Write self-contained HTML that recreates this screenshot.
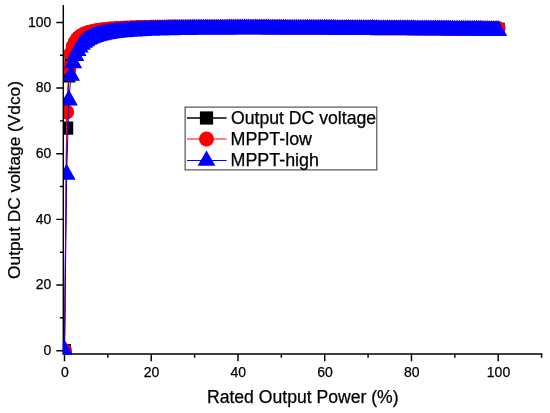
<!DOCTYPE html>
<html><head><meta charset="utf-8"><title>Chart</title>
<style>html,body{margin:0;padding:0;background:#fff}svg{display:block}text{font-family:"Liberation Sans",sans-serif;fill:#000;stroke:#000;stroke-width:.25px}</style></head>
<body>
<svg width="550" height="413" viewBox="0 0 550 413">
<rect width="550" height="413" fill="#fff"/>
<clipPath id="c"><rect x="63.3" y="0" width="486.7" height="353.95"/></clipPath>
<g clip-path="url(#c)">
<polyline fill="none" stroke="#000" stroke-width="1" points="64.50,350.65 66.67,128.12 68.84,75.96 71.01,58.58 73.17,49.91 75.34,44.72 77.51,41.26 79.68,38.80 81.85,36.96 84.02,35.54 86.19,34.40 88.35,33.48 90.52,32.71 92.69,32.07 94.86,31.52 97.03,31.05 99.20,30.64 101.36,30.28 103.53,29.97 105.70,29.69 107.87,29.44 110.04,29.21 112.21,29.01 114.38,28.83 116.54,28.67 118.71,28.52 120.88,28.38 123.05,28.26 125.22,28.15 127.39,28.05 129.56,27.95 131.72,27.86 133.89,27.78 136.06,27.71 138.23,27.64 140.40,27.58 142.57,27.52 144.73,27.47 146.90,27.42 149.07,27.38 151.24,27.33 153.41,27.30 155.58,27.26 157.75,27.23 159.91,27.20 162.08,27.17 164.25,27.14 166.42,27.12 168.59,27.10 170.76,27.08 172.93,27.06 175.09,27.05 177.26,27.03 179.43,27.02 181.60,27.01 183.77,27.00 185.94,26.99 188.10,26.98 190.27,26.98 192.44,26.97 194.61,26.97 196.78,26.97 198.95,26.96 201.12,26.96 203.28,26.96 205.45,26.96 207.62,26.96 209.79,26.96 211.96,26.97 214.13,26.97 216.29,26.97 218.46,26.98 220.63,26.98 222.80,26.99 224.97,26.99 227.14,27.00 229.31,27.01 231.47,27.01 233.64,27.02 235.81,27.03 237.98,27.04 240.15,27.05 242.32,27.06 244.49,27.07 246.65,27.08 248.82,27.09 250.99,27.10 253.16,27.11 255.33,27.12 257.50,27.14 259.66,27.15 261.83,27.16 264.00,27.17 266.17,27.19 268.34,27.20 270.51,27.21 272.68,27.23 274.84,27.24 277.01,27.26 279.18,27.27 281.35,27.28 283.52,27.30 285.69,27.31 287.86,27.33 290.02,27.35 292.19,27.36 294.36,27.38 296.53,27.39 298.70,27.41 300.87,27.43 303.03,27.44 305.20,27.46 307.37,27.48 309.54,27.49 311.71,27.51 313.88,27.53 316.05,27.54 318.21,27.56 320.38,27.58 322.55,27.60 324.72,27.62 326.89,27.63 329.06,27.65 331.23,27.67 333.39,27.69 335.56,27.71 337.73,27.73 339.90,27.74 342.07,27.76 344.24,27.78 346.40,27.80 348.57,27.82 350.74,27.84 352.91,27.86 355.08,27.88 357.25,27.90 359.42,27.92 361.58,27.94 363.75,27.96 365.92,27.98 368.09,28.00 370.26,28.02 372.43,28.04 374.60,28.06 376.76,28.08 378.93,28.10 381.10,28.12 383.27,28.14 385.44,28.16 387.61,28.18 389.77,28.20 391.94,28.22 394.11,28.24 396.28,28.26 398.45,28.28 400.62,28.30 402.79,28.33 404.95,28.35 407.12,28.37 409.29,28.39 411.46,28.41 413.63,28.43 415.80,28.45 417.97,28.47 420.13,28.49 422.30,28.52 424.47,28.54 426.64,28.56 428.81,28.58 430.98,28.60 433.14,28.62 435.31,28.65 437.48,28.67 439.65,28.69 441.82,28.71 443.99,28.73 446.16,28.75 448.32,28.78 450.49,28.80 452.66,28.82 454.83,28.84 457.00,28.86 459.17,28.89 461.34,28.91 463.50,28.93 465.67,28.95 467.84,28.98 470.01,29.00 472.18,29.02 474.35,29.04 476.51,29.06 478.68,29.09 480.85,29.11 483.02,29.13 485.19,29.15 487.36,29.18 489.53,29.20 491.69,29.22 493.86,29.24 496.03,29.27 498.20,29.29"/>
<path fill="#000" d="M57.95 344.10h13.1v13.1h-13.1zM60.12 121.57h13.1v13.1h-13.1zM62.29 69.41h13.1v13.1h-13.1zM64.46 52.03h13.1v13.1h-13.1zM66.62 43.36h13.1v13.1h-13.1zM68.79 38.17h13.1v13.1h-13.1zM70.96 34.71h13.1v13.1h-13.1zM73.13 32.25h13.1v13.1h-13.1zM75.30 30.41h13.1v13.1h-13.1zM77.47 28.99h13.1v13.1h-13.1zM79.64 27.85h13.1v13.1h-13.1zM81.80 26.93h13.1v13.1h-13.1zM83.97 26.16h13.1v13.1h-13.1zM86.14 25.52h13.1v13.1h-13.1zM88.31 24.97h13.1v13.1h-13.1zM90.48 24.50h13.1v13.1h-13.1zM92.65 24.09h13.1v13.1h-13.1zM94.81 23.73h13.1v13.1h-13.1zM96.98 23.42h13.1v13.1h-13.1zM99.15 23.14h13.1v13.1h-13.1zM101.32 22.89h13.1v13.1h-13.1zM103.49 22.66h13.1v13.1h-13.1zM105.66 22.46h13.1v13.1h-13.1zM107.83 22.28h13.1v13.1h-13.1zM109.99 22.12h13.1v13.1h-13.1zM112.16 21.97h13.1v13.1h-13.1zM114.33 21.83h13.1v13.1h-13.1zM116.50 21.71h13.1v13.1h-13.1zM118.67 21.60h13.1v13.1h-13.1zM120.84 21.50h13.1v13.1h-13.1zM123.01 21.40h13.1v13.1h-13.1zM125.17 21.31h13.1v13.1h-13.1zM127.34 21.23h13.1v13.1h-13.1zM129.51 21.16h13.1v13.1h-13.1zM131.68 21.09h13.1v13.1h-13.1zM133.85 21.03h13.1v13.1h-13.1zM136.02 20.97h13.1v13.1h-13.1zM138.18 20.92h13.1v13.1h-13.1zM140.35 20.87h13.1v13.1h-13.1zM142.52 20.83h13.1v13.1h-13.1zM144.69 20.78h13.1v13.1h-13.1zM146.86 20.75h13.1v13.1h-13.1zM149.03 20.71h13.1v13.1h-13.1zM151.20 20.68h13.1v13.1h-13.1zM153.36 20.65h13.1v13.1h-13.1zM155.53 20.62h13.1v13.1h-13.1zM157.70 20.59h13.1v13.1h-13.1zM159.87 20.57h13.1v13.1h-13.1zM162.04 20.55h13.1v13.1h-13.1zM164.21 20.53h13.1v13.1h-13.1zM166.38 20.51h13.1v13.1h-13.1zM168.54 20.50h13.1v13.1h-13.1zM170.71 20.48h13.1v13.1h-13.1zM172.88 20.47h13.1v13.1h-13.1zM175.05 20.46h13.1v13.1h-13.1zM177.22 20.45h13.1v13.1h-13.1zM179.39 20.44h13.1v13.1h-13.1zM181.55 20.43h13.1v13.1h-13.1zM183.72 20.43h13.1v13.1h-13.1zM185.89 20.42h13.1v13.1h-13.1zM188.06 20.42h13.1v13.1h-13.1zM190.23 20.42h13.1v13.1h-13.1zM192.40 20.41h13.1v13.1h-13.1zM194.57 20.41h13.1v13.1h-13.1zM196.73 20.41h13.1v13.1h-13.1zM198.90 20.41h13.1v13.1h-13.1zM201.07 20.41h13.1v13.1h-13.1zM203.24 20.41h13.1v13.1h-13.1zM205.41 20.42h13.1v13.1h-13.1zM207.58 20.42h13.1v13.1h-13.1zM209.74 20.42h13.1v13.1h-13.1zM211.91 20.43h13.1v13.1h-13.1zM214.08 20.43h13.1v13.1h-13.1zM216.25 20.44h13.1v13.1h-13.1zM218.42 20.44h13.1v13.1h-13.1zM220.59 20.45h13.1v13.1h-13.1zM222.76 20.46h13.1v13.1h-13.1zM224.92 20.46h13.1v13.1h-13.1zM227.09 20.47h13.1v13.1h-13.1zM229.26 20.48h13.1v13.1h-13.1zM231.43 20.49h13.1v13.1h-13.1zM233.60 20.50h13.1v13.1h-13.1zM235.77 20.51h13.1v13.1h-13.1zM237.94 20.52h13.1v13.1h-13.1zM240.10 20.53h13.1v13.1h-13.1zM242.27 20.54h13.1v13.1h-13.1zM244.44 20.55h13.1v13.1h-13.1zM246.61 20.56h13.1v13.1h-13.1zM248.78 20.57h13.1v13.1h-13.1zM250.95 20.59h13.1v13.1h-13.1zM253.11 20.60h13.1v13.1h-13.1zM255.28 20.61h13.1v13.1h-13.1zM257.45 20.62h13.1v13.1h-13.1zM259.62 20.64h13.1v13.1h-13.1zM261.79 20.65h13.1v13.1h-13.1zM263.96 20.66h13.1v13.1h-13.1zM266.13 20.68h13.1v13.1h-13.1zM268.29 20.69h13.1v13.1h-13.1zM270.46 20.71h13.1v13.1h-13.1zM272.63 20.72h13.1v13.1h-13.1zM274.80 20.73h13.1v13.1h-13.1zM276.97 20.75h13.1v13.1h-13.1zM279.14 20.76h13.1v13.1h-13.1zM281.31 20.78h13.1v13.1h-13.1zM283.47 20.80h13.1v13.1h-13.1zM285.64 20.81h13.1v13.1h-13.1zM287.81 20.83h13.1v13.1h-13.1zM289.98 20.84h13.1v13.1h-13.1zM292.15 20.86h13.1v13.1h-13.1zM294.32 20.88h13.1v13.1h-13.1zM296.48 20.89h13.1v13.1h-13.1zM298.65 20.91h13.1v13.1h-13.1zM300.82 20.93h13.1v13.1h-13.1zM302.99 20.94h13.1v13.1h-13.1zM305.16 20.96h13.1v13.1h-13.1zM307.33 20.98h13.1v13.1h-13.1zM309.50 20.99h13.1v13.1h-13.1zM311.66 21.01h13.1v13.1h-13.1zM313.83 21.03h13.1v13.1h-13.1zM316.00 21.05h13.1v13.1h-13.1zM318.17 21.07h13.1v13.1h-13.1zM320.34 21.08h13.1v13.1h-13.1zM322.51 21.10h13.1v13.1h-13.1zM324.68 21.12h13.1v13.1h-13.1zM326.84 21.14h13.1v13.1h-13.1zM329.01 21.16h13.1v13.1h-13.1zM331.18 21.18h13.1v13.1h-13.1zM333.35 21.19h13.1v13.1h-13.1zM335.52 21.21h13.1v13.1h-13.1zM337.69 21.23h13.1v13.1h-13.1zM339.85 21.25h13.1v13.1h-13.1zM342.02 21.27h13.1v13.1h-13.1zM344.19 21.29h13.1v13.1h-13.1zM346.36 21.31h13.1v13.1h-13.1zM348.53 21.33h13.1v13.1h-13.1zM350.70 21.35h13.1v13.1h-13.1zM352.87 21.37h13.1v13.1h-13.1zM355.03 21.39h13.1v13.1h-13.1zM357.20 21.41h13.1v13.1h-13.1zM359.37 21.43h13.1v13.1h-13.1zM361.54 21.45h13.1v13.1h-13.1zM363.71 21.47h13.1v13.1h-13.1zM365.88 21.49h13.1v13.1h-13.1zM368.05 21.51h13.1v13.1h-13.1zM370.21 21.53h13.1v13.1h-13.1zM372.38 21.55h13.1v13.1h-13.1zM374.55 21.57h13.1v13.1h-13.1zM376.72 21.59h13.1v13.1h-13.1zM378.89 21.61h13.1v13.1h-13.1zM381.06 21.63h13.1v13.1h-13.1zM383.22 21.65h13.1v13.1h-13.1zM385.39 21.67h13.1v13.1h-13.1zM387.56 21.69h13.1v13.1h-13.1zM389.73 21.71h13.1v13.1h-13.1zM391.90 21.73h13.1v13.1h-13.1zM394.07 21.75h13.1v13.1h-13.1zM396.24 21.78h13.1v13.1h-13.1zM398.40 21.80h13.1v13.1h-13.1zM400.57 21.82h13.1v13.1h-13.1zM402.74 21.84h13.1v13.1h-13.1zM404.91 21.86h13.1v13.1h-13.1zM407.08 21.88h13.1v13.1h-13.1zM409.25 21.90h13.1v13.1h-13.1zM411.42 21.92h13.1v13.1h-13.1zM413.58 21.94h13.1v13.1h-13.1zM415.75 21.97h13.1v13.1h-13.1zM417.92 21.99h13.1v13.1h-13.1zM420.09 22.01h13.1v13.1h-13.1zM422.26 22.03h13.1v13.1h-13.1zM424.43 22.05h13.1v13.1h-13.1zM426.59 22.07h13.1v13.1h-13.1zM428.76 22.10h13.1v13.1h-13.1zM430.93 22.12h13.1v13.1h-13.1zM433.10 22.14h13.1v13.1h-13.1zM435.27 22.16h13.1v13.1h-13.1zM437.44 22.18h13.1v13.1h-13.1zM439.61 22.20h13.1v13.1h-13.1zM441.77 22.23h13.1v13.1h-13.1zM443.94 22.25h13.1v13.1h-13.1zM446.11 22.27h13.1v13.1h-13.1zM448.28 22.29h13.1v13.1h-13.1zM450.45 22.31h13.1v13.1h-13.1zM452.62 22.34h13.1v13.1h-13.1zM454.79 22.36h13.1v13.1h-13.1zM456.95 22.38h13.1v13.1h-13.1zM459.12 22.40h13.1v13.1h-13.1zM461.29 22.43h13.1v13.1h-13.1zM463.46 22.45h13.1v13.1h-13.1zM465.63 22.47h13.1v13.1h-13.1zM467.80 22.49h13.1v13.1h-13.1zM469.96 22.51h13.1v13.1h-13.1zM472.13 22.54h13.1v13.1h-13.1zM474.30 22.56h13.1v13.1h-13.1zM476.47 22.58h13.1v13.1h-13.1zM478.64 22.60h13.1v13.1h-13.1zM480.81 22.63h13.1v13.1h-13.1zM482.98 22.65h13.1v13.1h-13.1zM485.14 22.67h13.1v13.1h-13.1zM487.31 22.69h13.1v13.1h-13.1zM489.48 22.72h13.1v13.1h-13.1zM491.65 22.74h13.1v13.1h-13.1z"/>
<polyline fill="none" stroke="#f00" stroke-width="1" points="64.50,350.65 66.67,111.93 68.84,68.21 71.01,53.65 73.17,46.38 75.34,42.02 77.51,39.12 79.68,37.06 81.85,35.51 84.02,34.32 86.19,33.36 88.35,32.59 90.52,31.94 92.69,31.40 94.86,30.94 97.03,30.54 99.20,30.19 101.36,29.89 103.53,29.62 105.70,29.38 107.87,29.17 110.04,28.98 112.21,28.81 114.38,28.65 116.54,28.51 118.71,28.39 120.88,28.27 123.05,28.16 125.22,28.06 127.39,27.98 129.56,27.89 131.72,27.82 133.89,27.75 136.06,27.68 138.23,27.62 140.40,27.57 142.57,27.52 144.73,27.47 146.90,27.42 149.07,27.38 151.24,27.34 153.41,27.31 155.58,27.28 157.75,27.25 159.91,27.22 162.08,27.19 164.25,27.17 166.42,27.14 168.59,27.12 170.76,27.11 172.93,27.09 175.09,27.07 177.26,27.06 179.43,27.04 181.60,27.03 183.77,27.02 185.94,27.01 188.10,27.00 190.27,26.99 192.44,26.98 194.61,26.98 196.78,26.97 198.95,26.97 201.12,26.96 203.28,26.96 205.45,26.95 207.62,26.95 209.79,26.95 211.96,26.95 214.13,26.95 216.29,26.95 218.46,26.95 220.63,26.95 222.80,26.95 224.97,26.95 227.14,26.96 229.31,26.96 231.47,26.96 233.64,26.96 235.81,26.97 237.98,26.97 240.15,26.98 242.32,26.98 244.49,26.99 246.65,26.99 248.82,27.00 250.99,27.00 253.16,27.01 255.33,27.02 257.50,27.02 259.66,27.03 261.83,27.04 264.00,27.05 266.17,27.05 268.34,27.06 270.51,27.07 272.68,27.08 274.84,27.09 277.01,27.10 279.18,27.11 281.35,27.12 283.52,27.12 285.69,27.13 287.86,27.14 290.02,27.15 292.19,27.16 294.36,27.17 296.53,27.18 298.70,27.19 300.87,27.21 303.03,27.22 305.20,27.23 307.37,27.24 309.54,27.25 311.71,27.26 313.88,27.27 316.05,27.28 318.21,27.30 320.38,27.31 322.55,27.32 324.72,27.33 326.89,27.34 329.06,27.35 331.23,27.37 333.39,27.38 335.56,27.39 337.73,27.40 339.90,27.42 342.07,27.43 344.24,27.44 346.40,27.46 348.57,27.47 350.74,27.48 352.91,27.49 355.08,27.51 357.25,27.52 359.42,27.53 361.58,27.55 363.75,27.56 365.92,27.57 368.09,27.59 370.26,27.60 372.43,27.61 374.60,27.63 376.76,27.64 378.93,27.66 381.10,27.67 383.27,27.68 385.44,27.70 387.61,27.71 389.77,27.73 391.94,27.74 394.11,27.75 396.28,27.77 398.45,27.78 400.62,27.80 402.79,27.81 404.95,27.83 407.12,27.84 409.29,27.86 411.46,27.87 413.63,27.89 415.80,27.90 417.97,27.91 420.13,27.93 422.30,27.94 424.47,27.96 426.64,27.97 428.81,27.99 430.98,28.00 433.14,28.02 435.31,28.03 437.48,28.05 439.65,28.06 441.82,28.08 443.99,28.09 446.16,28.11 448.32,28.12 450.49,28.14 452.66,28.16 454.83,28.17 457.00,28.19 459.17,28.20 461.34,28.22 463.50,28.23 465.67,28.25 467.84,28.26 470.01,28.28 472.18,28.29 474.35,28.31 476.51,28.33 478.68,28.34 480.85,28.36 483.02,28.37 485.19,28.39 487.36,28.40 489.53,28.42 491.69,28.44 493.86,28.45 496.03,28.47 498.20,28.48"/>
<path fill="#f00" d="M57.00 350.65a7.5 7.5 0 1 0 15.0 0a7.5 7.5 0 1 0 -15.0 0zM59.17 111.93a7.5 7.5 0 1 0 15.0 0a7.5 7.5 0 1 0 -15.0 0zM61.34 68.21a7.5 7.5 0 1 0 15.0 0a7.5 7.5 0 1 0 -15.0 0zM63.51 53.65a7.5 7.5 0 1 0 15.0 0a7.5 7.5 0 1 0 -15.0 0zM65.67 46.38a7.5 7.5 0 1 0 15.0 0a7.5 7.5 0 1 0 -15.0 0zM67.84 42.02a7.5 7.5 0 1 0 15.0 0a7.5 7.5 0 1 0 -15.0 0zM70.01 39.12a7.5 7.5 0 1 0 15.0 0a7.5 7.5 0 1 0 -15.0 0zM72.18 37.06a7.5 7.5 0 1 0 15.0 0a7.5 7.5 0 1 0 -15.0 0zM74.35 35.51a7.5 7.5 0 1 0 15.0 0a7.5 7.5 0 1 0 -15.0 0zM76.52 34.32a7.5 7.5 0 1 0 15.0 0a7.5 7.5 0 1 0 -15.0 0zM78.69 33.36a7.5 7.5 0 1 0 15.0 0a7.5 7.5 0 1 0 -15.0 0zM80.85 32.59a7.5 7.5 0 1 0 15.0 0a7.5 7.5 0 1 0 -15.0 0zM83.02 31.94a7.5 7.5 0 1 0 15.0 0a7.5 7.5 0 1 0 -15.0 0zM85.19 31.40a7.5 7.5 0 1 0 15.0 0a7.5 7.5 0 1 0 -15.0 0zM87.36 30.94a7.5 7.5 0 1 0 15.0 0a7.5 7.5 0 1 0 -15.0 0zM89.53 30.54a7.5 7.5 0 1 0 15.0 0a7.5 7.5 0 1 0 -15.0 0zM91.70 30.19a7.5 7.5 0 1 0 15.0 0a7.5 7.5 0 1 0 -15.0 0zM93.86 29.89a7.5 7.5 0 1 0 15.0 0a7.5 7.5 0 1 0 -15.0 0zM96.03 29.62a7.5 7.5 0 1 0 15.0 0a7.5 7.5 0 1 0 -15.0 0zM98.20 29.38a7.5 7.5 0 1 0 15.0 0a7.5 7.5 0 1 0 -15.0 0zM100.37 29.17a7.5 7.5 0 1 0 15.0 0a7.5 7.5 0 1 0 -15.0 0zM102.54 28.98a7.5 7.5 0 1 0 15.0 0a7.5 7.5 0 1 0 -15.0 0zM104.71 28.81a7.5 7.5 0 1 0 15.0 0a7.5 7.5 0 1 0 -15.0 0zM106.88 28.65a7.5 7.5 0 1 0 15.0 0a7.5 7.5 0 1 0 -15.0 0zM109.04 28.51a7.5 7.5 0 1 0 15.0 0a7.5 7.5 0 1 0 -15.0 0zM111.21 28.39a7.5 7.5 0 1 0 15.0 0a7.5 7.5 0 1 0 -15.0 0zM113.38 28.27a7.5 7.5 0 1 0 15.0 0a7.5 7.5 0 1 0 -15.0 0zM115.55 28.16a7.5 7.5 0 1 0 15.0 0a7.5 7.5 0 1 0 -15.0 0zM117.72 28.06a7.5 7.5 0 1 0 15.0 0a7.5 7.5 0 1 0 -15.0 0zM119.89 27.98a7.5 7.5 0 1 0 15.0 0a7.5 7.5 0 1 0 -15.0 0zM122.06 27.89a7.5 7.5 0 1 0 15.0 0a7.5 7.5 0 1 0 -15.0 0zM124.22 27.82a7.5 7.5 0 1 0 15.0 0a7.5 7.5 0 1 0 -15.0 0zM126.39 27.75a7.5 7.5 0 1 0 15.0 0a7.5 7.5 0 1 0 -15.0 0zM128.56 27.68a7.5 7.5 0 1 0 15.0 0a7.5 7.5 0 1 0 -15.0 0zM130.73 27.62a7.5 7.5 0 1 0 15.0 0a7.5 7.5 0 1 0 -15.0 0zM132.90 27.57a7.5 7.5 0 1 0 15.0 0a7.5 7.5 0 1 0 -15.0 0zM135.07 27.52a7.5 7.5 0 1 0 15.0 0a7.5 7.5 0 1 0 -15.0 0zM137.23 27.47a7.5 7.5 0 1 0 15.0 0a7.5 7.5 0 1 0 -15.0 0zM139.40 27.42a7.5 7.5 0 1 0 15.0 0a7.5 7.5 0 1 0 -15.0 0zM141.57 27.38a7.5 7.5 0 1 0 15.0 0a7.5 7.5 0 1 0 -15.0 0zM143.74 27.34a7.5 7.5 0 1 0 15.0 0a7.5 7.5 0 1 0 -15.0 0zM145.91 27.31a7.5 7.5 0 1 0 15.0 0a7.5 7.5 0 1 0 -15.0 0zM148.08 27.28a7.5 7.5 0 1 0 15.0 0a7.5 7.5 0 1 0 -15.0 0zM150.25 27.25a7.5 7.5 0 1 0 15.0 0a7.5 7.5 0 1 0 -15.0 0zM152.41 27.22a7.5 7.5 0 1 0 15.0 0a7.5 7.5 0 1 0 -15.0 0zM154.58 27.19a7.5 7.5 0 1 0 15.0 0a7.5 7.5 0 1 0 -15.0 0zM156.75 27.17a7.5 7.5 0 1 0 15.0 0a7.5 7.5 0 1 0 -15.0 0zM158.92 27.14a7.5 7.5 0 1 0 15.0 0a7.5 7.5 0 1 0 -15.0 0zM161.09 27.12a7.5 7.5 0 1 0 15.0 0a7.5 7.5 0 1 0 -15.0 0zM163.26 27.11a7.5 7.5 0 1 0 15.0 0a7.5 7.5 0 1 0 -15.0 0zM165.43 27.09a7.5 7.5 0 1 0 15.0 0a7.5 7.5 0 1 0 -15.0 0zM167.59 27.07a7.5 7.5 0 1 0 15.0 0a7.5 7.5 0 1 0 -15.0 0zM169.76 27.06a7.5 7.5 0 1 0 15.0 0a7.5 7.5 0 1 0 -15.0 0zM171.93 27.04a7.5 7.5 0 1 0 15.0 0a7.5 7.5 0 1 0 -15.0 0zM174.10 27.03a7.5 7.5 0 1 0 15.0 0a7.5 7.5 0 1 0 -15.0 0zM176.27 27.02a7.5 7.5 0 1 0 15.0 0a7.5 7.5 0 1 0 -15.0 0zM178.44 27.01a7.5 7.5 0 1 0 15.0 0a7.5 7.5 0 1 0 -15.0 0zM180.60 27.00a7.5 7.5 0 1 0 15.0 0a7.5 7.5 0 1 0 -15.0 0zM182.77 26.99a7.5 7.5 0 1 0 15.0 0a7.5 7.5 0 1 0 -15.0 0zM184.94 26.98a7.5 7.5 0 1 0 15.0 0a7.5 7.5 0 1 0 -15.0 0zM187.11 26.98a7.5 7.5 0 1 0 15.0 0a7.5 7.5 0 1 0 -15.0 0zM189.28 26.97a7.5 7.5 0 1 0 15.0 0a7.5 7.5 0 1 0 -15.0 0zM191.45 26.97a7.5 7.5 0 1 0 15.0 0a7.5 7.5 0 1 0 -15.0 0zM193.62 26.96a7.5 7.5 0 1 0 15.0 0a7.5 7.5 0 1 0 -15.0 0zM195.78 26.96a7.5 7.5 0 1 0 15.0 0a7.5 7.5 0 1 0 -15.0 0zM197.95 26.95a7.5 7.5 0 1 0 15.0 0a7.5 7.5 0 1 0 -15.0 0zM200.12 26.95a7.5 7.5 0 1 0 15.0 0a7.5 7.5 0 1 0 -15.0 0zM202.29 26.95a7.5 7.5 0 1 0 15.0 0a7.5 7.5 0 1 0 -15.0 0zM204.46 26.95a7.5 7.5 0 1 0 15.0 0a7.5 7.5 0 1 0 -15.0 0zM206.63 26.95a7.5 7.5 0 1 0 15.0 0a7.5 7.5 0 1 0 -15.0 0zM208.79 26.95a7.5 7.5 0 1 0 15.0 0a7.5 7.5 0 1 0 -15.0 0zM210.96 26.95a7.5 7.5 0 1 0 15.0 0a7.5 7.5 0 1 0 -15.0 0zM213.13 26.95a7.5 7.5 0 1 0 15.0 0a7.5 7.5 0 1 0 -15.0 0zM215.30 26.95a7.5 7.5 0 1 0 15.0 0a7.5 7.5 0 1 0 -15.0 0zM217.47 26.95a7.5 7.5 0 1 0 15.0 0a7.5 7.5 0 1 0 -15.0 0zM219.64 26.96a7.5 7.5 0 1 0 15.0 0a7.5 7.5 0 1 0 -15.0 0zM221.81 26.96a7.5 7.5 0 1 0 15.0 0a7.5 7.5 0 1 0 -15.0 0zM223.97 26.96a7.5 7.5 0 1 0 15.0 0a7.5 7.5 0 1 0 -15.0 0zM226.14 26.96a7.5 7.5 0 1 0 15.0 0a7.5 7.5 0 1 0 -15.0 0zM228.31 26.97a7.5 7.5 0 1 0 15.0 0a7.5 7.5 0 1 0 -15.0 0zM230.48 26.97a7.5 7.5 0 1 0 15.0 0a7.5 7.5 0 1 0 -15.0 0zM232.65 26.98a7.5 7.5 0 1 0 15.0 0a7.5 7.5 0 1 0 -15.0 0zM234.82 26.98a7.5 7.5 0 1 0 15.0 0a7.5 7.5 0 1 0 -15.0 0zM236.99 26.99a7.5 7.5 0 1 0 15.0 0a7.5 7.5 0 1 0 -15.0 0zM239.15 26.99a7.5 7.5 0 1 0 15.0 0a7.5 7.5 0 1 0 -15.0 0zM241.32 27.00a7.5 7.5 0 1 0 15.0 0a7.5 7.5 0 1 0 -15.0 0zM243.49 27.00a7.5 7.5 0 1 0 15.0 0a7.5 7.5 0 1 0 -15.0 0zM245.66 27.01a7.5 7.5 0 1 0 15.0 0a7.5 7.5 0 1 0 -15.0 0zM247.83 27.02a7.5 7.5 0 1 0 15.0 0a7.5 7.5 0 1 0 -15.0 0zM250.00 27.02a7.5 7.5 0 1 0 15.0 0a7.5 7.5 0 1 0 -15.0 0zM252.16 27.03a7.5 7.5 0 1 0 15.0 0a7.5 7.5 0 1 0 -15.0 0zM254.33 27.04a7.5 7.5 0 1 0 15.0 0a7.5 7.5 0 1 0 -15.0 0zM256.50 27.05a7.5 7.5 0 1 0 15.0 0a7.5 7.5 0 1 0 -15.0 0zM258.67 27.05a7.5 7.5 0 1 0 15.0 0a7.5 7.5 0 1 0 -15.0 0zM260.84 27.06a7.5 7.5 0 1 0 15.0 0a7.5 7.5 0 1 0 -15.0 0zM263.01 27.07a7.5 7.5 0 1 0 15.0 0a7.5 7.5 0 1 0 -15.0 0zM265.18 27.08a7.5 7.5 0 1 0 15.0 0a7.5 7.5 0 1 0 -15.0 0zM267.34 27.09a7.5 7.5 0 1 0 15.0 0a7.5 7.5 0 1 0 -15.0 0zM269.51 27.10a7.5 7.5 0 1 0 15.0 0a7.5 7.5 0 1 0 -15.0 0zM271.68 27.11a7.5 7.5 0 1 0 15.0 0a7.5 7.5 0 1 0 -15.0 0zM273.85 27.12a7.5 7.5 0 1 0 15.0 0a7.5 7.5 0 1 0 -15.0 0zM276.02 27.12a7.5 7.5 0 1 0 15.0 0a7.5 7.5 0 1 0 -15.0 0zM278.19 27.13a7.5 7.5 0 1 0 15.0 0a7.5 7.5 0 1 0 -15.0 0zM280.36 27.14a7.5 7.5 0 1 0 15.0 0a7.5 7.5 0 1 0 -15.0 0zM282.52 27.15a7.5 7.5 0 1 0 15.0 0a7.5 7.5 0 1 0 -15.0 0zM284.69 27.16a7.5 7.5 0 1 0 15.0 0a7.5 7.5 0 1 0 -15.0 0zM286.86 27.17a7.5 7.5 0 1 0 15.0 0a7.5 7.5 0 1 0 -15.0 0zM289.03 27.18a7.5 7.5 0 1 0 15.0 0a7.5 7.5 0 1 0 -15.0 0zM291.20 27.19a7.5 7.5 0 1 0 15.0 0a7.5 7.5 0 1 0 -15.0 0zM293.37 27.21a7.5 7.5 0 1 0 15.0 0a7.5 7.5 0 1 0 -15.0 0zM295.53 27.22a7.5 7.5 0 1 0 15.0 0a7.5 7.5 0 1 0 -15.0 0zM297.70 27.23a7.5 7.5 0 1 0 15.0 0a7.5 7.5 0 1 0 -15.0 0zM299.87 27.24a7.5 7.5 0 1 0 15.0 0a7.5 7.5 0 1 0 -15.0 0zM302.04 27.25a7.5 7.5 0 1 0 15.0 0a7.5 7.5 0 1 0 -15.0 0zM304.21 27.26a7.5 7.5 0 1 0 15.0 0a7.5 7.5 0 1 0 -15.0 0zM306.38 27.27a7.5 7.5 0 1 0 15.0 0a7.5 7.5 0 1 0 -15.0 0zM308.55 27.28a7.5 7.5 0 1 0 15.0 0a7.5 7.5 0 1 0 -15.0 0zM310.71 27.30a7.5 7.5 0 1 0 15.0 0a7.5 7.5 0 1 0 -15.0 0zM312.88 27.31a7.5 7.5 0 1 0 15.0 0a7.5 7.5 0 1 0 -15.0 0zM315.05 27.32a7.5 7.5 0 1 0 15.0 0a7.5 7.5 0 1 0 -15.0 0zM317.22 27.33a7.5 7.5 0 1 0 15.0 0a7.5 7.5 0 1 0 -15.0 0zM319.39 27.34a7.5 7.5 0 1 0 15.0 0a7.5 7.5 0 1 0 -15.0 0zM321.56 27.35a7.5 7.5 0 1 0 15.0 0a7.5 7.5 0 1 0 -15.0 0zM323.73 27.37a7.5 7.5 0 1 0 15.0 0a7.5 7.5 0 1 0 -15.0 0zM325.89 27.38a7.5 7.5 0 1 0 15.0 0a7.5 7.5 0 1 0 -15.0 0zM328.06 27.39a7.5 7.5 0 1 0 15.0 0a7.5 7.5 0 1 0 -15.0 0zM330.23 27.40a7.5 7.5 0 1 0 15.0 0a7.5 7.5 0 1 0 -15.0 0zM332.40 27.42a7.5 7.5 0 1 0 15.0 0a7.5 7.5 0 1 0 -15.0 0zM334.57 27.43a7.5 7.5 0 1 0 15.0 0a7.5 7.5 0 1 0 -15.0 0zM336.74 27.44a7.5 7.5 0 1 0 15.0 0a7.5 7.5 0 1 0 -15.0 0zM338.90 27.46a7.5 7.5 0 1 0 15.0 0a7.5 7.5 0 1 0 -15.0 0zM341.07 27.47a7.5 7.5 0 1 0 15.0 0a7.5 7.5 0 1 0 -15.0 0zM343.24 27.48a7.5 7.5 0 1 0 15.0 0a7.5 7.5 0 1 0 -15.0 0zM345.41 27.49a7.5 7.5 0 1 0 15.0 0a7.5 7.5 0 1 0 -15.0 0zM347.58 27.51a7.5 7.5 0 1 0 15.0 0a7.5 7.5 0 1 0 -15.0 0zM349.75 27.52a7.5 7.5 0 1 0 15.0 0a7.5 7.5 0 1 0 -15.0 0zM351.92 27.53a7.5 7.5 0 1 0 15.0 0a7.5 7.5 0 1 0 -15.0 0zM354.08 27.55a7.5 7.5 0 1 0 15.0 0a7.5 7.5 0 1 0 -15.0 0zM356.25 27.56a7.5 7.5 0 1 0 15.0 0a7.5 7.5 0 1 0 -15.0 0zM358.42 27.57a7.5 7.5 0 1 0 15.0 0a7.5 7.5 0 1 0 -15.0 0zM360.59 27.59a7.5 7.5 0 1 0 15.0 0a7.5 7.5 0 1 0 -15.0 0zM362.76 27.60a7.5 7.5 0 1 0 15.0 0a7.5 7.5 0 1 0 -15.0 0zM364.93 27.61a7.5 7.5 0 1 0 15.0 0a7.5 7.5 0 1 0 -15.0 0zM367.10 27.63a7.5 7.5 0 1 0 15.0 0a7.5 7.5 0 1 0 -15.0 0zM369.26 27.64a7.5 7.5 0 1 0 15.0 0a7.5 7.5 0 1 0 -15.0 0zM371.43 27.66a7.5 7.5 0 1 0 15.0 0a7.5 7.5 0 1 0 -15.0 0zM373.60 27.67a7.5 7.5 0 1 0 15.0 0a7.5 7.5 0 1 0 -15.0 0zM375.77 27.68a7.5 7.5 0 1 0 15.0 0a7.5 7.5 0 1 0 -15.0 0zM377.94 27.70a7.5 7.5 0 1 0 15.0 0a7.5 7.5 0 1 0 -15.0 0zM380.11 27.71a7.5 7.5 0 1 0 15.0 0a7.5 7.5 0 1 0 -15.0 0zM382.27 27.73a7.5 7.5 0 1 0 15.0 0a7.5 7.5 0 1 0 -15.0 0zM384.44 27.74a7.5 7.5 0 1 0 15.0 0a7.5 7.5 0 1 0 -15.0 0zM386.61 27.75a7.5 7.5 0 1 0 15.0 0a7.5 7.5 0 1 0 -15.0 0zM388.78 27.77a7.5 7.5 0 1 0 15.0 0a7.5 7.5 0 1 0 -15.0 0zM390.95 27.78a7.5 7.5 0 1 0 15.0 0a7.5 7.5 0 1 0 -15.0 0zM393.12 27.80a7.5 7.5 0 1 0 15.0 0a7.5 7.5 0 1 0 -15.0 0zM395.29 27.81a7.5 7.5 0 1 0 15.0 0a7.5 7.5 0 1 0 -15.0 0zM397.45 27.83a7.5 7.5 0 1 0 15.0 0a7.5 7.5 0 1 0 -15.0 0zM399.62 27.84a7.5 7.5 0 1 0 15.0 0a7.5 7.5 0 1 0 -15.0 0zM401.79 27.86a7.5 7.5 0 1 0 15.0 0a7.5 7.5 0 1 0 -15.0 0zM403.96 27.87a7.5 7.5 0 1 0 15.0 0a7.5 7.5 0 1 0 -15.0 0zM406.13 27.89a7.5 7.5 0 1 0 15.0 0a7.5 7.5 0 1 0 -15.0 0zM408.30 27.90a7.5 7.5 0 1 0 15.0 0a7.5 7.5 0 1 0 -15.0 0zM410.47 27.91a7.5 7.5 0 1 0 15.0 0a7.5 7.5 0 1 0 -15.0 0zM412.63 27.93a7.5 7.5 0 1 0 15.0 0a7.5 7.5 0 1 0 -15.0 0zM414.80 27.94a7.5 7.5 0 1 0 15.0 0a7.5 7.5 0 1 0 -15.0 0zM416.97 27.96a7.5 7.5 0 1 0 15.0 0a7.5 7.5 0 1 0 -15.0 0zM419.14 27.97a7.5 7.5 0 1 0 15.0 0a7.5 7.5 0 1 0 -15.0 0zM421.31 27.99a7.5 7.5 0 1 0 15.0 0a7.5 7.5 0 1 0 -15.0 0zM423.48 28.00a7.5 7.5 0 1 0 15.0 0a7.5 7.5 0 1 0 -15.0 0zM425.64 28.02a7.5 7.5 0 1 0 15.0 0a7.5 7.5 0 1 0 -15.0 0zM427.81 28.03a7.5 7.5 0 1 0 15.0 0a7.5 7.5 0 1 0 -15.0 0zM429.98 28.05a7.5 7.5 0 1 0 15.0 0a7.5 7.5 0 1 0 -15.0 0zM432.15 28.06a7.5 7.5 0 1 0 15.0 0a7.5 7.5 0 1 0 -15.0 0zM434.32 28.08a7.5 7.5 0 1 0 15.0 0a7.5 7.5 0 1 0 -15.0 0zM436.49 28.09a7.5 7.5 0 1 0 15.0 0a7.5 7.5 0 1 0 -15.0 0zM438.66 28.11a7.5 7.5 0 1 0 15.0 0a7.5 7.5 0 1 0 -15.0 0zM440.82 28.12a7.5 7.5 0 1 0 15.0 0a7.5 7.5 0 1 0 -15.0 0zM442.99 28.14a7.5 7.5 0 1 0 15.0 0a7.5 7.5 0 1 0 -15.0 0zM445.16 28.16a7.5 7.5 0 1 0 15.0 0a7.5 7.5 0 1 0 -15.0 0zM447.33 28.17a7.5 7.5 0 1 0 15.0 0a7.5 7.5 0 1 0 -15.0 0zM449.50 28.19a7.5 7.5 0 1 0 15.0 0a7.5 7.5 0 1 0 -15.0 0zM451.67 28.20a7.5 7.5 0 1 0 15.0 0a7.5 7.5 0 1 0 -15.0 0zM453.84 28.22a7.5 7.5 0 1 0 15.0 0a7.5 7.5 0 1 0 -15.0 0zM456.00 28.23a7.5 7.5 0 1 0 15.0 0a7.5 7.5 0 1 0 -15.0 0zM458.17 28.25a7.5 7.5 0 1 0 15.0 0a7.5 7.5 0 1 0 -15.0 0zM460.34 28.26a7.5 7.5 0 1 0 15.0 0a7.5 7.5 0 1 0 -15.0 0zM462.51 28.28a7.5 7.5 0 1 0 15.0 0a7.5 7.5 0 1 0 -15.0 0zM464.68 28.29a7.5 7.5 0 1 0 15.0 0a7.5 7.5 0 1 0 -15.0 0zM466.85 28.31a7.5 7.5 0 1 0 15.0 0a7.5 7.5 0 1 0 -15.0 0zM469.01 28.33a7.5 7.5 0 1 0 15.0 0a7.5 7.5 0 1 0 -15.0 0zM471.18 28.34a7.5 7.5 0 1 0 15.0 0a7.5 7.5 0 1 0 -15.0 0zM473.35 28.36a7.5 7.5 0 1 0 15.0 0a7.5 7.5 0 1 0 -15.0 0zM475.52 28.37a7.5 7.5 0 1 0 15.0 0a7.5 7.5 0 1 0 -15.0 0zM477.69 28.39a7.5 7.5 0 1 0 15.0 0a7.5 7.5 0 1 0 -15.0 0zM479.86 28.40a7.5 7.5 0 1 0 15.0 0a7.5 7.5 0 1 0 -15.0 0zM482.03 28.42a7.5 7.5 0 1 0 15.0 0a7.5 7.5 0 1 0 -15.0 0zM484.19 28.44a7.5 7.5 0 1 0 15.0 0a7.5 7.5 0 1 0 -15.0 0zM486.36 28.45a7.5 7.5 0 1 0 15.0 0a7.5 7.5 0 1 0 -15.0 0zM488.53 28.47a7.5 7.5 0 1 0 15.0 0a7.5 7.5 0 1 0 -15.0 0zM490.70 28.48a7.5 7.5 0 1 0 15.0 0a7.5 7.5 0 1 0 -15.0 0z"/>
<polyline fill="none" stroke="#00f" stroke-width="1" points="64.50,350.65 66.67,174.40 68.84,100.07 71.01,75.31 73.17,62.94 75.34,55.53 77.51,50.59 79.68,47.07 81.85,44.44 84.02,42.39 86.19,40.76 88.35,39.43 90.52,38.32 92.69,37.39 94.86,36.60 97.03,35.91 99.20,35.31 101.36,34.78 103.53,34.32 105.70,33.90 107.87,33.53 110.04,33.20 112.21,32.90 114.38,32.63 116.54,32.38 118.71,32.15 120.88,31.94 123.05,31.75 125.22,31.58 127.39,31.41 129.56,31.26 131.72,31.13 133.89,31.00 136.06,30.88 138.23,30.76 140.40,30.66 142.57,30.56 144.73,30.47 146.90,30.39 149.07,30.31 151.24,30.23 153.41,30.16 155.58,30.10 157.75,30.04 159.91,29.98 162.08,29.92 164.25,29.87 166.42,29.83 168.59,29.78 170.76,29.74 172.93,29.70 175.09,29.66 177.26,29.63 179.43,29.59 181.60,29.56 183.77,29.53 185.94,29.51 188.10,29.48 190.27,29.46 192.44,29.43 194.61,29.41 196.78,29.39 198.95,29.37 201.12,29.36 203.28,29.34 205.45,29.33 207.62,29.31 209.79,29.30 211.96,29.29 214.13,29.28 216.29,29.27 218.46,29.26 220.63,29.25 222.80,29.24 224.97,29.23 227.14,29.23 229.31,29.22 231.47,29.22 233.64,29.21 235.81,29.21 237.98,29.21 240.15,29.21 242.32,29.21 244.49,29.20 246.65,29.20 248.82,29.20 250.99,29.20 253.16,29.21 255.33,29.21 257.50,29.21 259.66,29.21 261.83,29.21 264.00,29.22 266.17,29.22 268.34,29.22 270.51,29.23 272.68,29.23 274.84,29.24 277.01,29.24 279.18,29.25 281.35,29.25 283.52,29.26 285.69,29.27 287.86,29.27 290.02,29.28 292.19,29.29 294.36,29.29 296.53,29.30 298.70,29.31 300.87,29.32 303.03,29.33 305.20,29.34 307.37,29.34 309.54,29.35 311.71,29.36 313.88,29.37 316.05,29.38 318.21,29.39 320.38,29.40 322.55,29.41 324.72,29.42 326.89,29.43 329.06,29.44 331.23,29.46 333.39,29.47 335.56,29.48 337.73,29.49 339.90,29.50 342.07,29.51 344.24,29.52 346.40,29.54 348.57,29.55 350.74,29.56 352.91,29.57 355.08,29.59 357.25,29.60 359.42,29.61 361.58,29.62 363.75,29.64 365.92,29.65 368.09,29.66 370.26,29.68 372.43,29.69 374.60,29.70 376.76,29.72 378.93,29.73 381.10,29.74 383.27,29.76 385.44,29.77 387.61,29.79 389.77,29.80 391.94,29.81 394.11,29.83 396.28,29.84 398.45,29.86 400.62,29.87 402.79,29.89 404.95,29.90 407.12,29.92 409.29,29.93 411.46,29.95 413.63,29.96 415.80,29.98 417.97,29.99 420.13,30.01 422.30,30.02 424.47,30.04 426.64,30.05 428.81,30.07 430.98,30.08 433.14,30.10 435.31,30.12 437.48,30.13 439.65,30.15 441.82,30.16 443.99,30.18 446.16,30.20 448.32,30.21 450.49,30.23 452.66,30.24 454.83,30.26 457.00,30.28 459.17,30.29 461.34,30.31 463.50,30.33 465.67,30.34 467.84,30.36 470.01,30.38 472.18,30.39 474.35,30.41 476.51,30.43 478.68,30.44 480.85,30.46 483.02,30.48 485.19,30.49 487.36,30.51 489.53,30.53 491.69,30.54 493.86,30.56 496.03,30.58 498.20,30.59"/>
<path fill="#00f" d="M64.50 340.05l9.0 16.0h-18.0zM66.67 163.80l9.0 16.0h-18.0zM68.84 89.47l9.0 16.0h-18.0zM71.01 64.71l9.0 16.0h-18.0zM73.17 52.34l9.0 16.0h-18.0zM75.34 44.93l9.0 16.0h-18.0zM77.51 39.99l9.0 16.0h-18.0zM79.68 36.47l9.0 16.0h-18.0zM81.85 33.84l9.0 16.0h-18.0zM84.02 31.79l9.0 16.0h-18.0zM86.19 30.16l9.0 16.0h-18.0zM88.35 28.83l9.0 16.0h-18.0zM90.52 27.72l9.0 16.0h-18.0zM92.69 26.79l9.0 16.0h-18.0zM94.86 26.00l9.0 16.0h-18.0zM97.03 25.31l9.0 16.0h-18.0zM99.20 24.71l9.0 16.0h-18.0zM101.36 24.18l9.0 16.0h-18.0zM103.53 23.72l9.0 16.0h-18.0zM105.70 23.30l9.0 16.0h-18.0zM107.87 22.93l9.0 16.0h-18.0zM110.04 22.60l9.0 16.0h-18.0zM112.21 22.30l9.0 16.0h-18.0zM114.38 22.03l9.0 16.0h-18.0zM116.54 21.78l9.0 16.0h-18.0zM118.71 21.55l9.0 16.0h-18.0zM120.88 21.34l9.0 16.0h-18.0zM123.05 21.15l9.0 16.0h-18.0zM125.22 20.98l9.0 16.0h-18.0zM127.39 20.81l9.0 16.0h-18.0zM129.56 20.66l9.0 16.0h-18.0zM131.72 20.53l9.0 16.0h-18.0zM133.89 20.40l9.0 16.0h-18.0zM136.06 20.28l9.0 16.0h-18.0zM138.23 20.16l9.0 16.0h-18.0zM140.40 20.06l9.0 16.0h-18.0zM142.57 19.96l9.0 16.0h-18.0zM144.73 19.87l9.0 16.0h-18.0zM146.90 19.79l9.0 16.0h-18.0zM149.07 19.71l9.0 16.0h-18.0zM151.24 19.63l9.0 16.0h-18.0zM153.41 19.56l9.0 16.0h-18.0zM155.58 19.50l9.0 16.0h-18.0zM157.75 19.44l9.0 16.0h-18.0zM159.91 19.38l9.0 16.0h-18.0zM162.08 19.32l9.0 16.0h-18.0zM164.25 19.27l9.0 16.0h-18.0zM166.42 19.23l9.0 16.0h-18.0zM168.59 19.18l9.0 16.0h-18.0zM170.76 19.14l9.0 16.0h-18.0zM172.93 19.10l9.0 16.0h-18.0zM175.09 19.06l9.0 16.0h-18.0zM177.26 19.03l9.0 16.0h-18.0zM179.43 18.99l9.0 16.0h-18.0zM181.60 18.96l9.0 16.0h-18.0zM183.77 18.93l9.0 16.0h-18.0zM185.94 18.91l9.0 16.0h-18.0zM188.10 18.88l9.0 16.0h-18.0zM190.27 18.86l9.0 16.0h-18.0zM192.44 18.83l9.0 16.0h-18.0zM194.61 18.81l9.0 16.0h-18.0zM196.78 18.79l9.0 16.0h-18.0zM198.95 18.77l9.0 16.0h-18.0zM201.12 18.76l9.0 16.0h-18.0zM203.28 18.74l9.0 16.0h-18.0zM205.45 18.73l9.0 16.0h-18.0zM207.62 18.71l9.0 16.0h-18.0zM209.79 18.70l9.0 16.0h-18.0zM211.96 18.69l9.0 16.0h-18.0zM214.13 18.68l9.0 16.0h-18.0zM216.29 18.67l9.0 16.0h-18.0zM218.46 18.66l9.0 16.0h-18.0zM220.63 18.65l9.0 16.0h-18.0zM222.80 18.64l9.0 16.0h-18.0zM224.97 18.63l9.0 16.0h-18.0zM227.14 18.63l9.0 16.0h-18.0zM229.31 18.62l9.0 16.0h-18.0zM231.47 18.62l9.0 16.0h-18.0zM233.64 18.61l9.0 16.0h-18.0zM235.81 18.61l9.0 16.0h-18.0zM237.98 18.61l9.0 16.0h-18.0zM240.15 18.61l9.0 16.0h-18.0zM242.32 18.61l9.0 16.0h-18.0zM244.49 18.60l9.0 16.0h-18.0zM246.65 18.60l9.0 16.0h-18.0zM248.82 18.60l9.0 16.0h-18.0zM250.99 18.60l9.0 16.0h-18.0zM253.16 18.61l9.0 16.0h-18.0zM255.33 18.61l9.0 16.0h-18.0zM257.50 18.61l9.0 16.0h-18.0zM259.66 18.61l9.0 16.0h-18.0zM261.83 18.61l9.0 16.0h-18.0zM264.00 18.62l9.0 16.0h-18.0zM266.17 18.62l9.0 16.0h-18.0zM268.34 18.62l9.0 16.0h-18.0zM270.51 18.63l9.0 16.0h-18.0zM272.68 18.63l9.0 16.0h-18.0zM274.84 18.64l9.0 16.0h-18.0zM277.01 18.64l9.0 16.0h-18.0zM279.18 18.65l9.0 16.0h-18.0zM281.35 18.65l9.0 16.0h-18.0zM283.52 18.66l9.0 16.0h-18.0zM285.69 18.67l9.0 16.0h-18.0zM287.86 18.67l9.0 16.0h-18.0zM290.02 18.68l9.0 16.0h-18.0zM292.19 18.69l9.0 16.0h-18.0zM294.36 18.69l9.0 16.0h-18.0zM296.53 18.70l9.0 16.0h-18.0zM298.70 18.71l9.0 16.0h-18.0zM300.87 18.72l9.0 16.0h-18.0zM303.03 18.73l9.0 16.0h-18.0zM305.20 18.74l9.0 16.0h-18.0zM307.37 18.74l9.0 16.0h-18.0zM309.54 18.75l9.0 16.0h-18.0zM311.71 18.76l9.0 16.0h-18.0zM313.88 18.77l9.0 16.0h-18.0zM316.05 18.78l9.0 16.0h-18.0zM318.21 18.79l9.0 16.0h-18.0zM320.38 18.80l9.0 16.0h-18.0zM322.55 18.81l9.0 16.0h-18.0zM324.72 18.82l9.0 16.0h-18.0zM326.89 18.83l9.0 16.0h-18.0zM329.06 18.84l9.0 16.0h-18.0zM331.23 18.86l9.0 16.0h-18.0zM333.39 18.87l9.0 16.0h-18.0zM335.56 18.88l9.0 16.0h-18.0zM337.73 18.89l9.0 16.0h-18.0zM339.90 18.90l9.0 16.0h-18.0zM342.07 18.91l9.0 16.0h-18.0zM344.24 18.92l9.0 16.0h-18.0zM346.40 18.94l9.0 16.0h-18.0zM348.57 18.95l9.0 16.0h-18.0zM350.74 18.96l9.0 16.0h-18.0zM352.91 18.97l9.0 16.0h-18.0zM355.08 18.99l9.0 16.0h-18.0zM357.25 19.00l9.0 16.0h-18.0zM359.42 19.01l9.0 16.0h-18.0zM361.58 19.02l9.0 16.0h-18.0zM363.75 19.04l9.0 16.0h-18.0zM365.92 19.05l9.0 16.0h-18.0zM368.09 19.06l9.0 16.0h-18.0zM370.26 19.08l9.0 16.0h-18.0zM372.43 19.09l9.0 16.0h-18.0zM374.60 19.10l9.0 16.0h-18.0zM376.76 19.12l9.0 16.0h-18.0zM378.93 19.13l9.0 16.0h-18.0zM381.10 19.14l9.0 16.0h-18.0zM383.27 19.16l9.0 16.0h-18.0zM385.44 19.17l9.0 16.0h-18.0zM387.61 19.19l9.0 16.0h-18.0zM389.77 19.20l9.0 16.0h-18.0zM391.94 19.21l9.0 16.0h-18.0zM394.11 19.23l9.0 16.0h-18.0zM396.28 19.24l9.0 16.0h-18.0zM398.45 19.26l9.0 16.0h-18.0zM400.62 19.27l9.0 16.0h-18.0zM402.79 19.29l9.0 16.0h-18.0zM404.95 19.30l9.0 16.0h-18.0zM407.12 19.32l9.0 16.0h-18.0zM409.29 19.33l9.0 16.0h-18.0zM411.46 19.35l9.0 16.0h-18.0zM413.63 19.36l9.0 16.0h-18.0zM415.80 19.38l9.0 16.0h-18.0zM417.97 19.39l9.0 16.0h-18.0zM420.13 19.41l9.0 16.0h-18.0zM422.30 19.42l9.0 16.0h-18.0zM424.47 19.44l9.0 16.0h-18.0zM426.64 19.45l9.0 16.0h-18.0zM428.81 19.47l9.0 16.0h-18.0zM430.98 19.48l9.0 16.0h-18.0zM433.14 19.50l9.0 16.0h-18.0zM435.31 19.52l9.0 16.0h-18.0zM437.48 19.53l9.0 16.0h-18.0zM439.65 19.55l9.0 16.0h-18.0zM441.82 19.56l9.0 16.0h-18.0zM443.99 19.58l9.0 16.0h-18.0zM446.16 19.60l9.0 16.0h-18.0zM448.32 19.61l9.0 16.0h-18.0zM450.49 19.63l9.0 16.0h-18.0zM452.66 19.64l9.0 16.0h-18.0zM454.83 19.66l9.0 16.0h-18.0zM457.00 19.68l9.0 16.0h-18.0zM459.17 19.69l9.0 16.0h-18.0zM461.34 19.71l9.0 16.0h-18.0zM463.50 19.73l9.0 16.0h-18.0zM465.67 19.74l9.0 16.0h-18.0zM467.84 19.76l9.0 16.0h-18.0zM470.01 19.78l9.0 16.0h-18.0zM472.18 19.79l9.0 16.0h-18.0zM474.35 19.81l9.0 16.0h-18.0zM476.51 19.83l9.0 16.0h-18.0zM478.68 19.84l9.0 16.0h-18.0zM480.85 19.86l9.0 16.0h-18.0zM483.02 19.88l9.0 16.0h-18.0zM485.19 19.89l9.0 16.0h-18.0zM487.36 19.91l9.0 16.0h-18.0zM489.53 19.93l9.0 16.0h-18.0zM491.69 19.94l9.0 16.0h-18.0zM493.86 19.96l9.0 16.0h-18.0zM496.03 19.98l9.0 16.0h-18.0zM498.20 19.99l9.0 16.0h-18.0z"/>
</g>
<g stroke="#000" stroke-width="1.45" fill="none">
<path d="M63.3 5.1V354.7M62.55 353.95H542.4"/>
<path d="M64.50 353.95v7.3M107.87 353.95v3.8M151.24 353.95v7.3M194.61 353.95v3.8M237.98 353.95v7.3M281.35 353.95v3.8M324.72 353.95v7.3M368.09 353.95v3.8M411.46 353.95v7.3M454.83 353.95v3.8M498.20 353.95v7.3M541.57 353.95v3.8M63.3 350.65h-7.0M63.3 317.82h-3.4M63.3 285.00h-7.0M63.3 252.17h-3.4M63.3 219.35h-7.0M63.3 186.52h-3.4M63.3 153.70h-7.0M63.3 120.87h-3.4M63.3 88.05h-7.0M63.3 55.22h-3.4M63.3 22.40h-7.0"/>
</g>
<clipPath id="c2"><rect x="62.7" y="300" width="40" height="54.7"/></clipPath>
<path clip-path="url(#c2)" fill="#00f" d="M64.50 340.05l9.0 16.0h-18.0z"/>
<g font-size="14px" text-anchor="middle">
<text x="64.80" y="377">0</text>
<text x="151.54" y="377">20</text>
<text x="238.28" y="377">40</text>
<text x="325.02" y="377">60</text>
<text x="411.76" y="377">80</text>
<text x="498.50" y="377">100</text>
</g>
<g font-size="14px" text-anchor="end">
<text x="51.4" y="354.95">0</text>
<text x="51.4" y="289.30">20</text>
<text x="51.4" y="223.65">40</text>
<text x="51.4" y="158.00">60</text>
<text x="51.4" y="92.35">80</text>
<text x="51.4" y="26.70">100</text>
</g>
<text x="302.8" y="403.4" font-size="17.6px" text-anchor="middle">Rated Output Power (%)</text>
<text transform="translate(20.4 180.0) rotate(-90) scale(1.011 1)" font-size="17.1px" text-anchor="middle">Output DC voltage (Vdco)</text>
<rect x="185.1" y="107.1" width="191.7" height="62.8" fill="#fff" stroke="#444" stroke-width="1.1"/>
<path d="M187 118H226.6" stroke="#000" stroke-width="1.4"/>
<rect x="199.9" y="111.4" width="13.2" height="13.2" fill="#000"/>
<text x="231.0" y="124.1" font-size="17.65px">Output DC voltage</text>
<path d="M187 139H226.6" stroke="#f00" stroke-width="1"/>
<circle cx="206.5" cy="139" r="7.5" fill="#f00"/>
<text x="230.5" y="145.3" font-size="17.9px">MPPT-low</text>
<path d="M187 160.5H226.6" stroke="#00f" stroke-width="1"/>
<path d="M206.5 150.4l8.9 15.4h-17.8z" fill="#00f"/>
<text x="230.5" y="166.2" font-size="17.9px">MPPT-high</text>
</svg>
</body></html>
